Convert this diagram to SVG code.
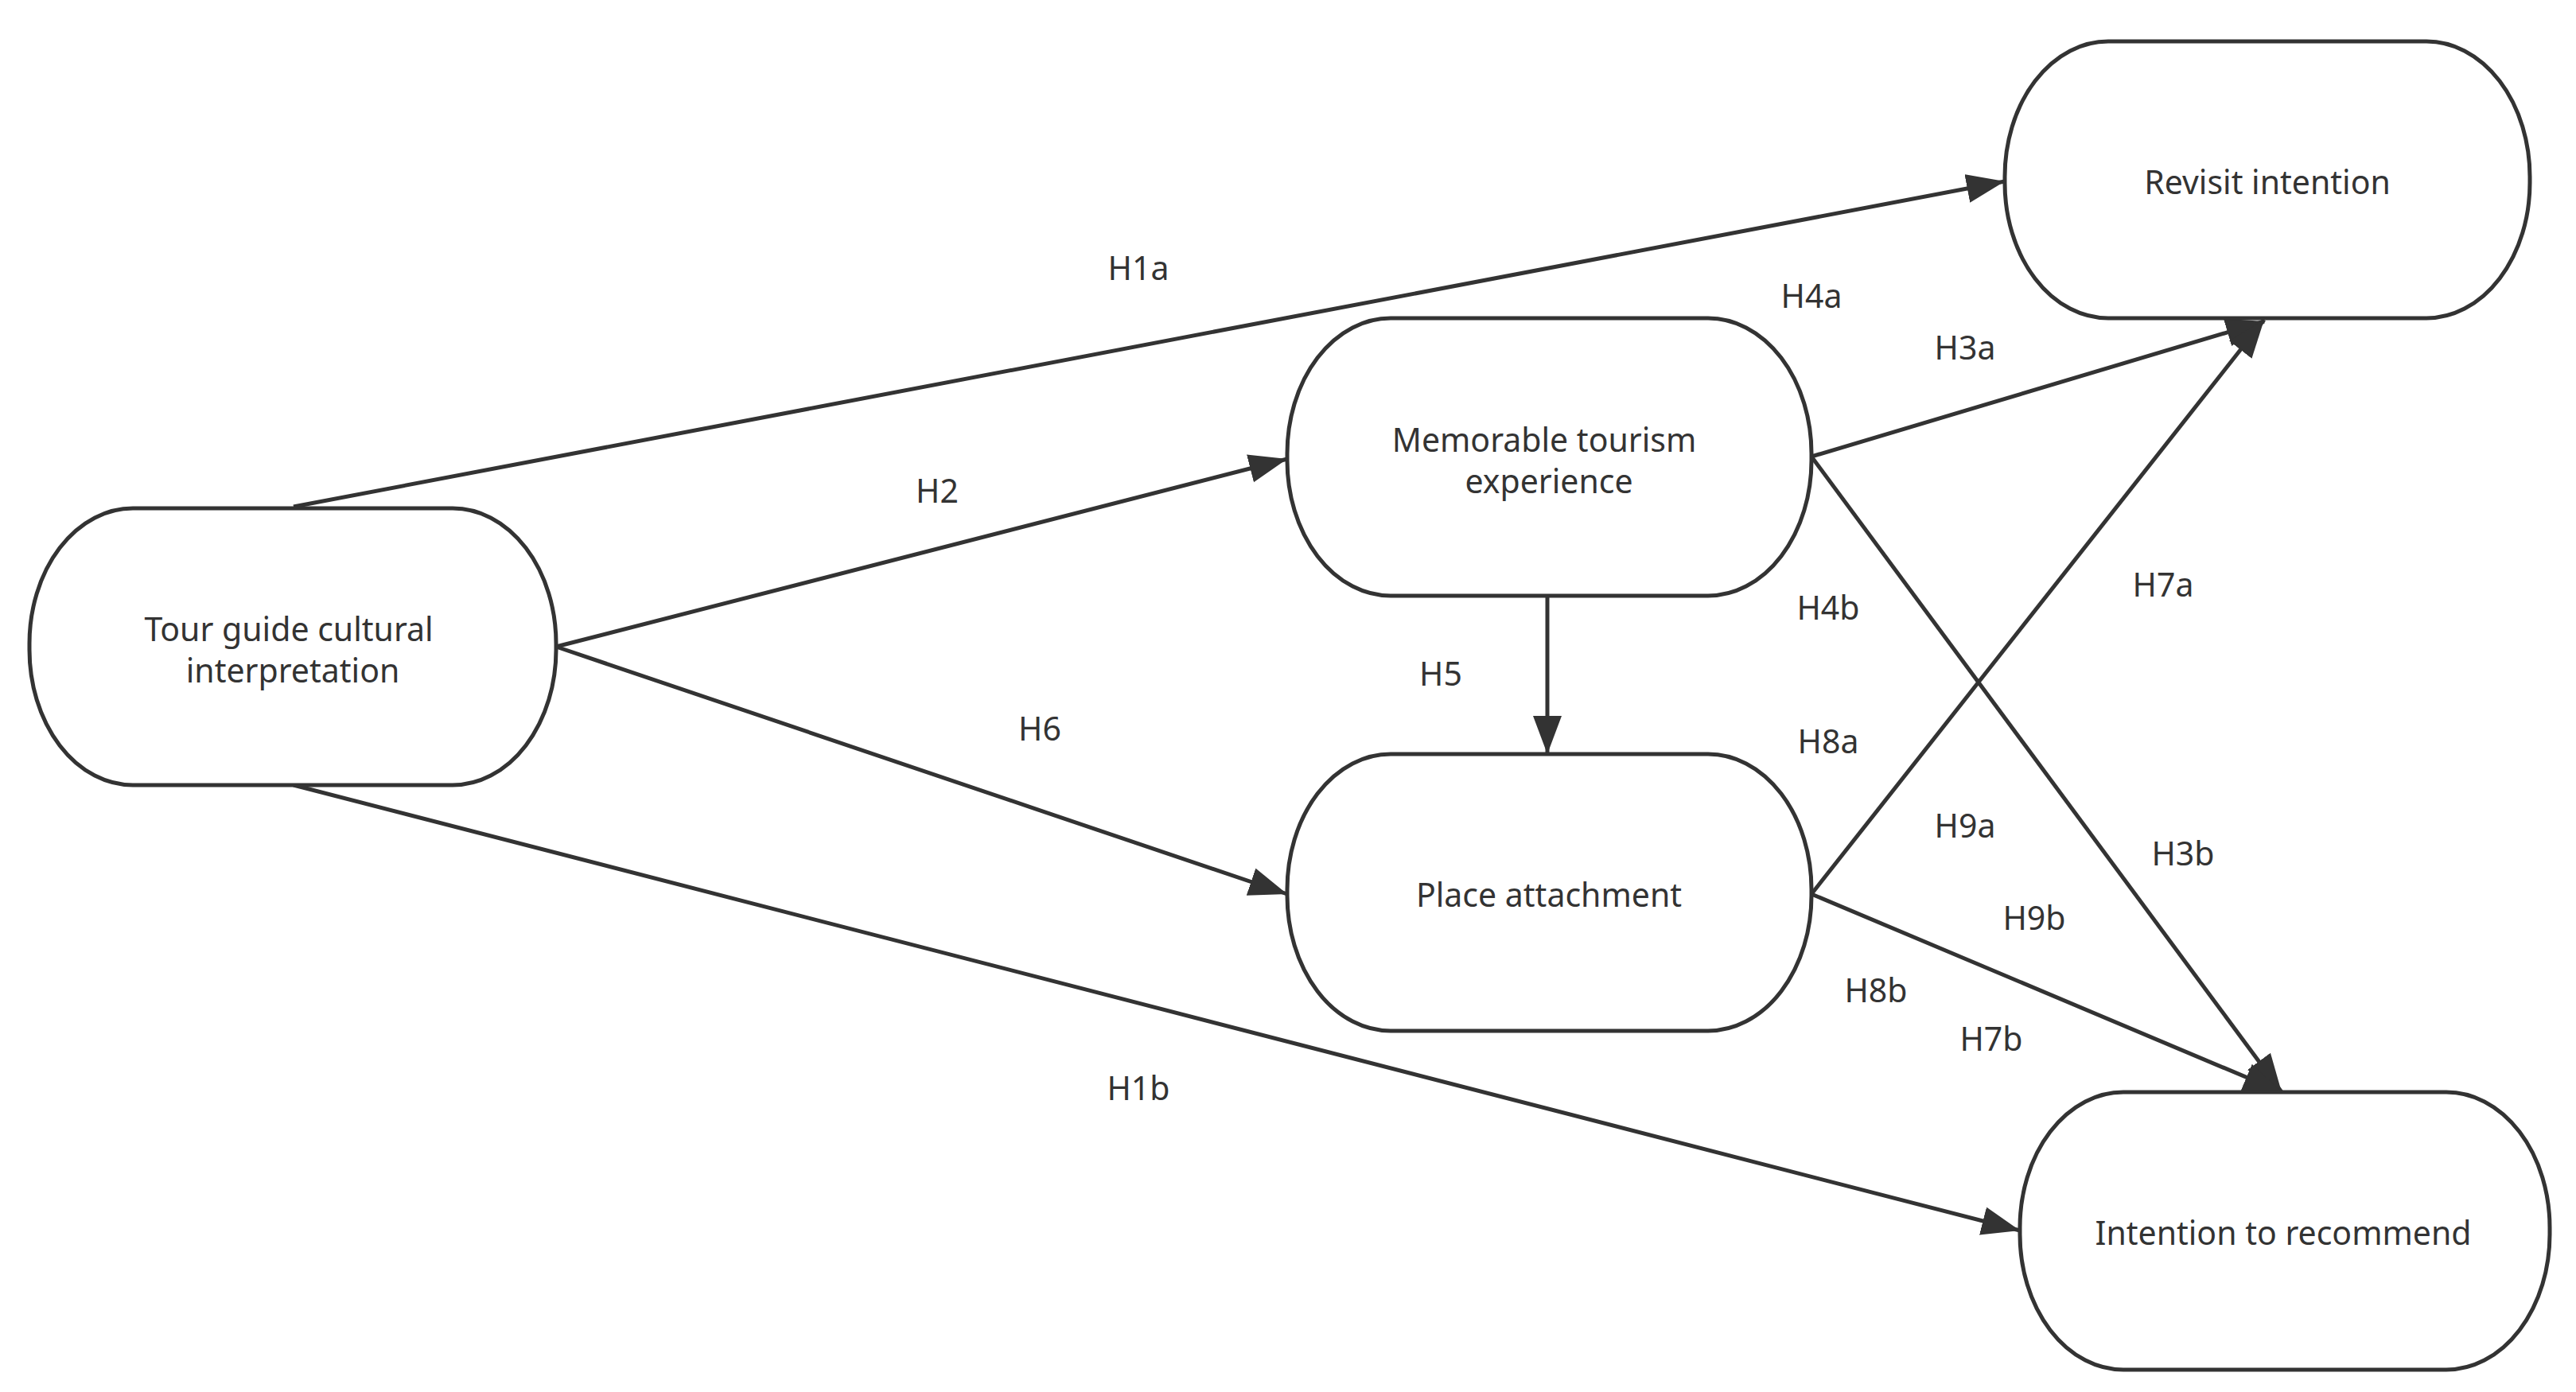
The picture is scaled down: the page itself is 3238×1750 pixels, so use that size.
<svg xmlns="http://www.w3.org/2000/svg" width="3238" height="1750" viewBox="0 0 3238 1750">
<style>
.n{fill:#fff;stroke:#333;stroke-width:5}
.t{font-family:"Noto Sans","Open Sans",sans-serif;font-size:41px;fill:#333;text-anchor:middle;dominant-baseline:central}
.e{stroke:#333;stroke-width:5;fill:none;marker-end:url(#a)}
</style>
<defs><marker id="a" markerUnits="userSpaceOnUse" markerWidth="50" markerHeight="40" refX="48" refY="18" orient="auto"><path d="M0,0 L48,18 L0,36 Z" fill="#333"/></marker></defs>
<rect width="3238" height="1750" fill="#fff"/>
<g id="edges">
<line class="e" x1="369" y1="637" x2="2520" y2="228"/>
<line class="e" x1="699" y1="813" x2="1618" y2="577"/>
<line class="e" x1="699" y1="813" x2="1618" y2="1124"/>
<line class="e" x1="369" y1="987" x2="2539" y2="1547"/>
<line class="e" x1="2277" y1="574" x2="2846" y2="404"/>
<line class="e" x1="2277" y1="574" x2="2868" y2="1373"/>
<line class="e" x1="1945" y1="749" x2="1945" y2="948"/>
<line class="e" x1="2277" y1="1124" x2="2846" y2="402"/>
<line class="e" x1="2277" y1="1124" x2="2868" y2="1373"/>
</g>
<g id="labels">
<text class="t" x="1431" y="336">H1a</text><text class="t" x="2277" y="371">H4a</text>
<text class="t" x="2470" y="436">H3a</text><text class="t" x="1178" y="616">H2</text>
<text class="t" x="2298" y="763">H4b</text><text class="t" x="2719" y="734">H7a</text>
<text class="t" x="1811" y="846">H5</text><text class="t" x="1307" y="915">H6</text>
<text class="t" x="2298" y="931">H8a</text><text class="t" x="2470" y="1037">H9a</text>
<text class="t" x="2744" y="1072">H3b</text><text class="t" x="2557" y="1153">H9b</text>
<text class="t" x="2358" y="1244">H8b</text><text class="t" x="2503" y="1305">H7b</text>
<text class="t" x="1431" y="1367">H1b</text>
</g>
<g id="tour"><rect class="n" x="37" y="639" width="662" height="348" rx="130" ry="170"/><text class="t" x="363" y="790">Tour guide cultural</text><text class="t" x="368" y="842">interpretation</text></g>
<g id="mte"><rect class="n" x="1618" y="400" width="659" height="349" rx="130" ry="170"/><text class="t" x="1941" y="552">Memorable tourism</text><text class="t" x="1947" y="604">experience</text></g>
<g id="pa"><rect class="n" x="1618" y="948" width="659" height="348" rx="130" ry="170"/><text class="t" x="1947" y="1124">Place attachment</text></g>
<g id="revisit"><rect class="n" x="2520" y="52" width="660" height="348" rx="130" ry="170"/><text class="t" x="2850" y="228">Revisit intention</text></g>
<g id="recommend"><rect class="n" x="2539" y="1373" width="666" height="349" rx="130" ry="170"/><text class="t" x="2870" y="1549">Intention to recommend</text></g>
</svg>
